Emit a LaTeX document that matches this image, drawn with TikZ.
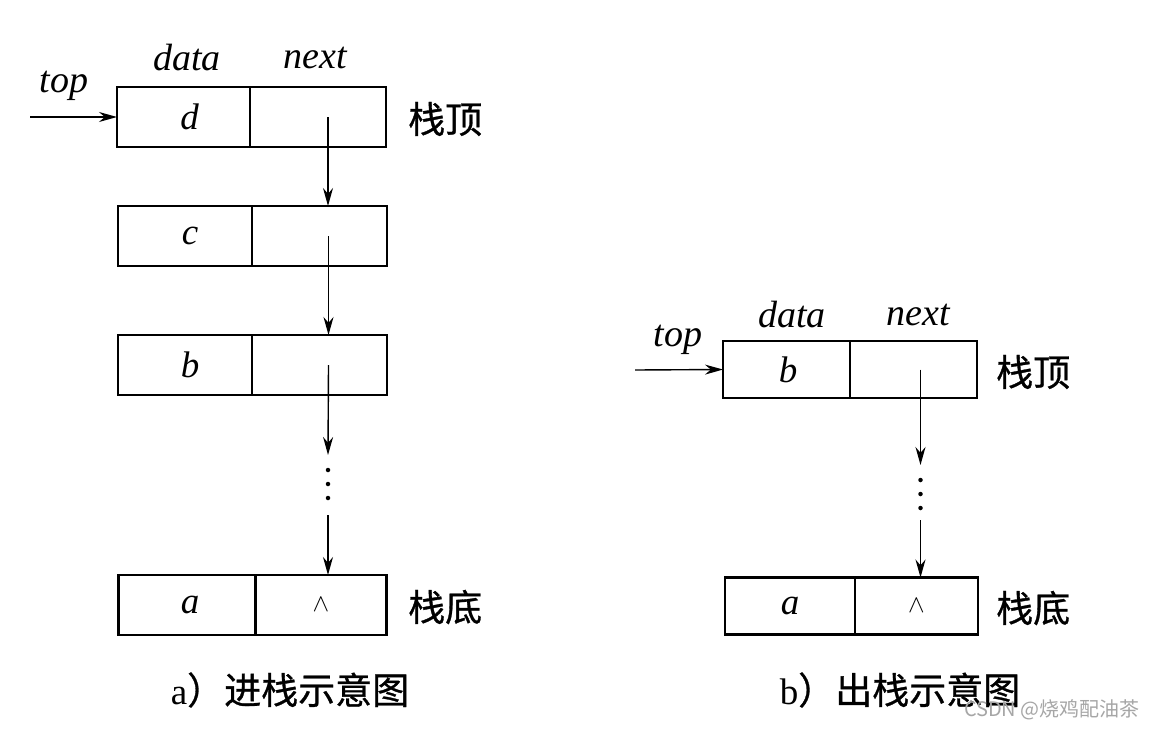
\documentclass[tikz,border=0pt]{standalone}
\usepackage{fontspec}
\setmainfont{Liberation Serif}
\newfontfamily\cjk[FakeBold=0.8]{Noto Sans CJK SC}
\newfontfamily\cjkw{Noto Sans CJK SC}
\usetikzlibrary{arrows.meta}
\begin{document}
\begin{tikzpicture}[x=1pt,y=-1pt,
  cell/.style={draw, line width=2.6pt, minimum height=60pt, inner sep=0pt, outer sep=0pt, font=\fontsize{37}{40}\selectfont\itshape},
  rcell/.style={cell, minimum height=57pt},
  lbl/.style={font=\fontsize{38}{42}\selectfont\itshape, inner sep=0pt},
  cn/.style={font=\cjk\fontsize{37}{40}\selectfont, inner sep=0pt},
  captxt/.style={font=\fontsize{37}{40}\selectfont, inner sep=0pt},
  ptr/.style={line width=1.4pt, -{Stealth[length=18pt,width=10pt]}},
  dotsty/.style={fill, circle, minimum size=4.5pt, inner sep=0pt}
]
\useasboundingbox[fill=white] (0,0) rectangle (1153,728);

% ---------- left: push ----------
\node[cell, minimum width=133pt] (dD) at (183.5,117) {\kern12pt d};
\node[cell, minimum width=136pt, anchor=west] (dN) at (dD.east) {};
\node[cell, minimum width=134pt] (cD) at (185,236) {\kern10pt c};
\node[cell, minimum width=135pt, anchor=west] (cN) at (cD.east) {};
\node[cell, minimum width=134pt] (bD) at (185,365) {\kern10pt b};
\node[cell, minimum width=135pt, anchor=west] (bN) at (bD.east) {};
\node[cell, minimum width=137pt] (aD) at (187,605) {\kern6pt a};
\node[cell, minimum width=131pt, anchor=west] (aN) at (aD.east) {$\wedge$};

\node[lbl] (ldata) at (187,58) {data};
\node[lbl] (lnext) at (315,58) {next};
\node[lbl] (ltop) at (64,86) {top};
\coordinate (ltopS) at (30,117);
\draw[ptr] (ltopS) -- (dD.west);
\node[cn, anchor=west] (ltopL) at (408,119) {栈顶};
\node[cn, anchor=west] (lbotL) at (408,607) {栈底};

\coordinate (lp1) at ([xshift=10pt]dN.center);
\coordinate (lp2) at ([xshift=9pt]cN.center);
\coordinate (lp3) at ([xshift=9pt]bN.center);
\draw[ptr] (lp1) -- (lp1 |- cN.north);
\draw[ptr] (lp2) -- (lp2 |- bN.north);
\coordinate (lmid1) at (328,455);
\coordinate (lmid2) at (328,515);
\draw[ptr] (lp3) -- (lmid1);
\node[dotsty] (ld1) at (328,470) {};
\node[dotsty] (ld2) at (328,484) {};
\node[dotsty] (ld3) at (328,498) {};
\draw[ptr] (lmid2) -- (aN.north -| lmid2);

\node[captxt] (lcap) at (290,690) {a\cjk）进栈示意图};

% ---------- right: pop ----------
\node[rcell, minimum width=127pt] (rbD) at (786.5,369.5) {\kern3pt b};
\node[rcell, minimum width=127pt, anchor=west] (rbN) at (rbD.east) {};
\node[rcell, minimum width=130pt, anchor=center] (raD) at (790,606) {a};
\node[rcell, minimum width=123pt, anchor=west] (raN) at (raD.east) {$\wedge$};

\node[lbl] (rdata) at (792,315) {data};
\node[lbl] (rnext) at (918,315) {next};
\node[lbl] (rtop) at (678,340) {top};
\coordinate (rtopS) at (635,370);
\draw[ptr] (rtopS) -- (rbD.west);
\node[cn, anchor=west] (rtopL) at (996,372) {栈顶};
\node[cn, anchor=west] (rbotL) at (996,608) {栈底};

\coordinate (rp1) at ([xshift=7pt]rbN.center);
\coordinate (rmid1) at (rp1 |- 0,465);
\coordinate (rmid2) at (rp1 |- 0,520);
\draw[ptr] (rp1) -- (rmid1);
\node[dotsty] (rd1) at (rp1 |- 0,480) {};
\node[dotsty] (rd2) at (rp1 |- 0,494) {};
\node[dotsty] (rd3) at (rp1 |- 0,508) {};
\draw[ptr] (rmid2) -- (raN.north -| rmid2);

\node[captxt] (rcap) at (900,690) {b\cjk）出栈示意图};

\node[font=\cjkw\fontsize{20}{22}\selectfont, text=gray!70, inner sep=0pt, anchor=east] (wm) at (1140,710) {CSDN @烧鸡配油茶};
\end{tikzpicture}
\end{document}
